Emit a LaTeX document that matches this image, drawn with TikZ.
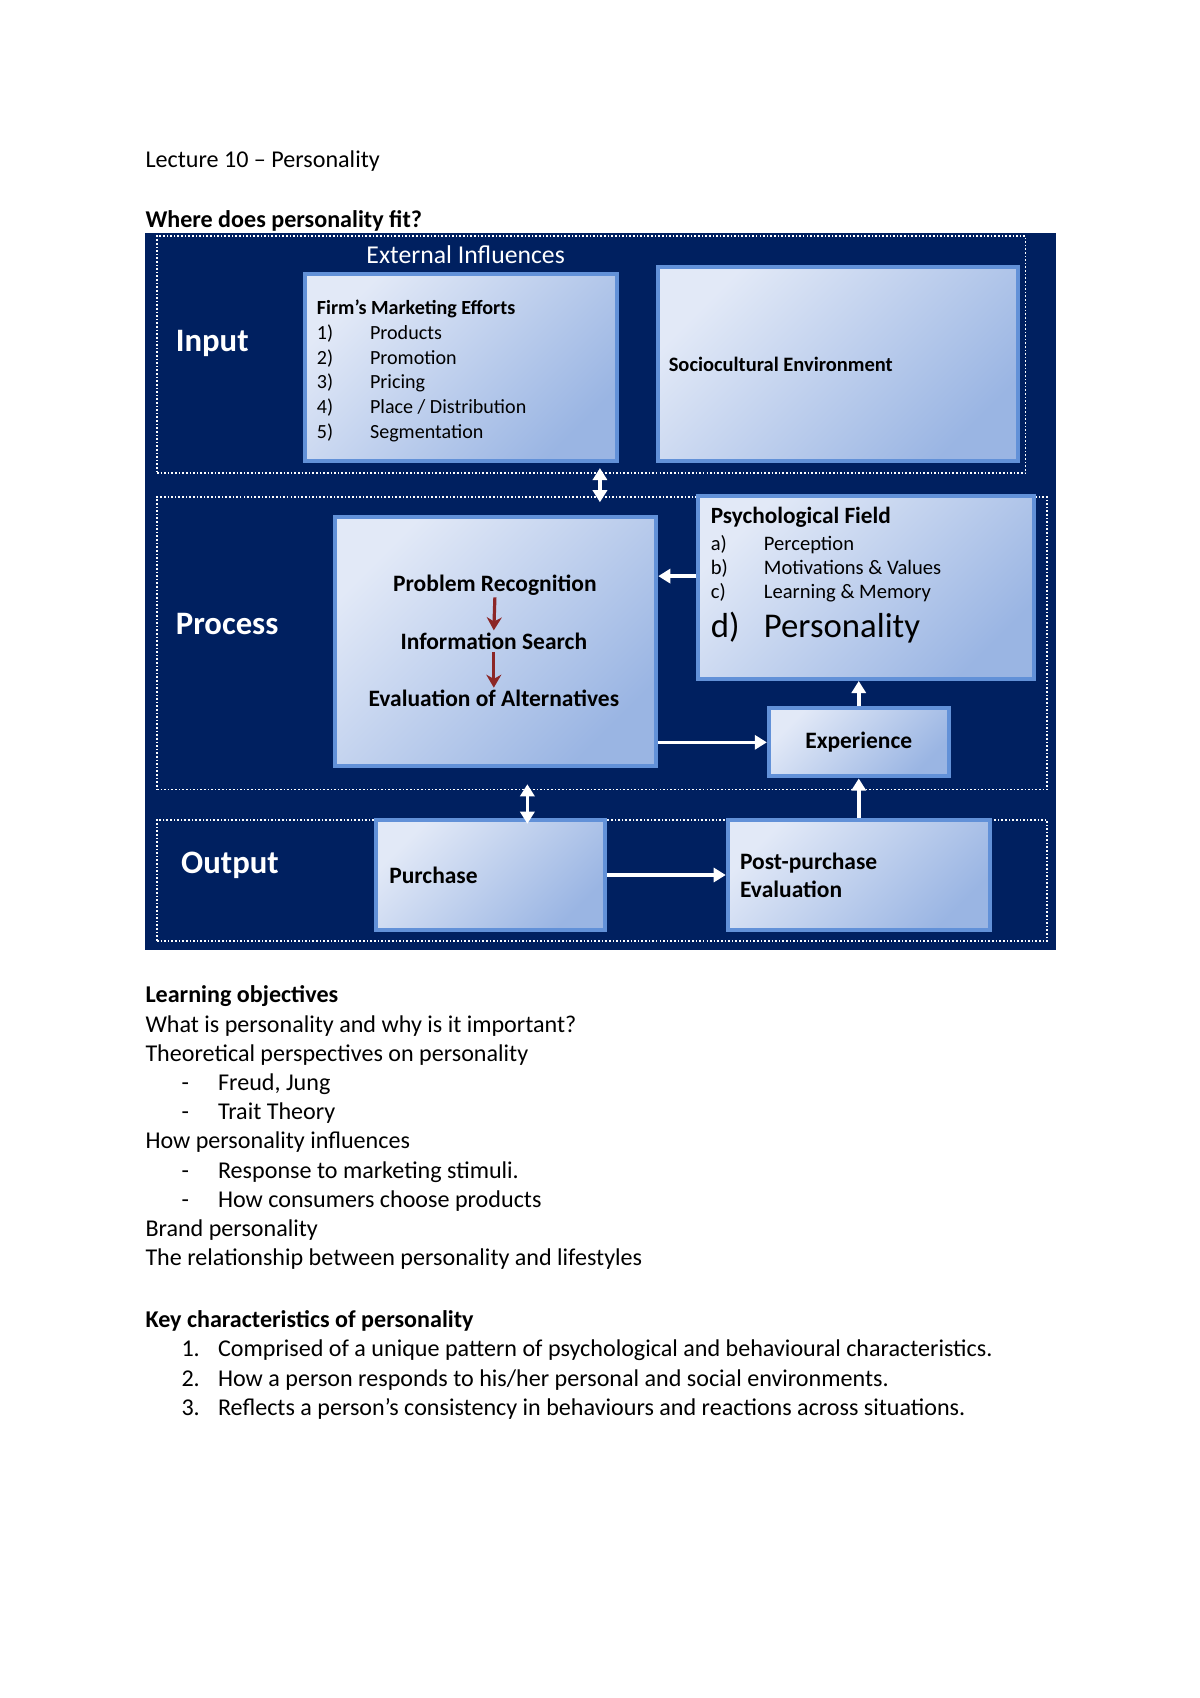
\documentclass[tikz,border=0pt]{standalone}
\usepackage{fontspec}
\setmainfont{Carlito}
\usetikzlibrary{arrows.meta,fit}

\definecolor{navy}{RGB}{0,32,96}
\definecolor{boxtop}{RGB}{226,233,247}
\definecolor{boxbot}{RGB}{154,181,227}
\definecolor{boxedge}{RGB}{98,145,216}
\definecolor{arrowred}{RGB}{140,38,38}

\newcommand\dashline[1]{\hspace*{0.63cm}\makebox[0.64cm][l]{-}#1}
\newcommand\numline[2]{\hspace*{0.63cm}\makebox[0.64cm][l]{#1}#2}
\newcommand\boxitem[2]{\makebox[0.93cm][l]{#1}#2}

\tikzset{
  pagetext/.style={anchor=base west, inner sep=0pt, font=\fontsize{12}{14.56}\selectfont},
  panel/.style={draw=white, densely dotted, line width=0.8pt, inner sep=0pt},
  panellabel/.style={anchor=west, inner sep=0pt, text=white, font=\fontsize{16.3}{18}\selectfont\bfseries},
  box/.style={draw=boxedge, line width=2pt, inner sep=0pt,
    top color=boxtop, bottom color=boxbot, shading angle=45},
  boxtext/.style={inner sep=1pt, font=\fontsize{11.7}{14}\selectfont\bfseries},
  arr/.style={draw=white, line width=1.8pt, -{Triangle[length=6pt,width=7pt]}},
  dblarr/.style={arr, {Triangle[length=6pt,width=7pt]}-{Triangle[length=6pt,width=7pt]},
    shorten <=-3pt, shorten >=-3pt},
  stepdown/.style={draw=arrowred, line width=1.6pt, -{Stealth[length=6.5pt,width=7.5pt]}}
}

\begin{document}
\begin{tikzpicture}[x=0.018951cm, y=-0.018951cm]
  \useasboundingbox (0,0) rectangle (1108,1568);
  \fill[white] (0,0) rectangle (1108,1568);

  % heading
  \node[pagetext] (title) at (134,155) {Lecture 10 – Personality};
  \node[pagetext] (fitq) at (134,210) {\textbf{Where does personality fit?}};

  % diagram background and panels
  \fill[navy] (134,215) rectangle (975,877);
  \node[panel, fit={(145,218) (947,437)}] (inputpanel) {};
  \node[panel, fit={(145,459) (967,729)}] (processpanel) {};
  \node[panel, fit={(145,757) (967,869)}] (outputpanel) {};
  \node[text=white, font=\fontsize{12.8}{14}\selectfont] (extinf) at (430,235) {External Influences};
  \node[panellabel] (input) at (162,317) {Input};
  \node[panellabel] (process) at (162,576) {Process};
  \node[panellabel] (output) at (167,799) {Output};

  % input
  \node[box, fit={(282,253) (570,426)}] (firm) {};
  \node[anchor=west, inner sep=0pt, align=left, font=\fontsize{10}{12.4}\selectfont]
    (firmtxt) at ([xshift=0.23cm, yshift=-0.057cm]firm.west) {\textbf{Firm’s Marketing Efforts}\\
    \boxitem{1)}{Products}\\
    \boxitem{2)}{Promotion}\\
    \boxitem{3)}{Pricing}\\
    \boxitem{4)}{Place / Distribution}\\
    \boxitem{5)}{Segmentation}};
  \node[box, fit={(608,247) (940,426)}] (socio) {};
  \node[anchor=west, inner sep=0pt, font=\fontsize{10.2}{12}\selectfont\bfseries]
    (sociotxt) at ([xshift=0.21cm]socio.west) {Sociocultural Environment};

  % process
  \node[box, fit={(309,477) (606,707)}] (prob) {};
  \node[boxtext] (recog) at (457,540) {Problem Recognition};
  \node[boxtext] (search) at (456,592) {Information Search};
  \node[boxtext] (evalalt) at (456,645) {Evaluation of Alternatives};
  \draw[stepdown] (recog.south) -- (search.north);
  \draw[stepdown] (search.south) -- (evalalt.north);

  \node[box, fit={(645,458) (955,627)}] (psych) {};
  \node[anchor=north west, inner sep=0pt, align=left,
    font=\fontsize{10.25}{11.9}\selectfont] (psychtxt) at (656,468)
    {{\fontsize{11.6}{11.9}\selectfont\bfseries Psychological Field}\\[1.5pt]
    \boxitem{a)}{Perception}\\
    \boxitem{b)}{Motivations \& Values}\\
    \boxitem{c)}{Learning \& Memory}};
  \node[anchor=base west, inner sep=0pt, font=\fontsize{17.3}{19}\selectfont] (pers) at (656,589)
    {\boxitem{d)}{Personality}};

  \node[box, fit={(710,654) (876,717)}] (exp) {};
  \node[boxtext] (exptxt) at (exp.center) {Experience};

  % output
  \node[box, fit={(347,757) (559,859)}] (purchase) {};
  \node[boxtext, anchor=west, inner sep=0pt] (purchtxt) at ([xshift=0.265cm]purchase.west) {Purchase};
  \node[box, fit={(672,757) (914,859)}] (post) {};
  \node[boxtext, anchor=west, inner sep=0pt, align=left] (posttxt) at ([xshift=0.245cm]post.west)
    {Post-purchase\\Evaluation};

  % connectors
  \coordinate (x554) at (554,0);
  \coordinate (x487) at (487,0);
  \coordinate (y532) at (0,532);
  \draw[dblarr] (inputpanel.south -| x554) -- (processpanel.north -| x554);
  \draw[dblarr] (processpanel.south -| x487) -- (purchase.north -| x487);
  \draw[arr] (psych.west |- y532) -- (prob.east |- y532);
  \draw[arr] (prob.east |- exp.west) -- (exp.west);
  \draw[arr] (exp.north) -- (exp.north |- psych.south);
  \draw[arr] (exp.south |- post.north) -- (exp.south);
  \draw[arr] (purchase.east) -- (post.west);

  % text below the diagram
  \node[pagetext] (objectives) at (134,926) {\begin{tabular}[t]{@{}l@{}}
    \textbf{Learning objectives}\\
    What is personality and why is it important?\\
    Theoretical perspectives on personality\\
    \dashline{Freud, Jung}\\
    \dashline{Trait Theory}\\
    How personality influences\\
    \dashline{Response to marketing stimuli.}\\
    \dashline{How consumers choose products}\\
    Brand personality\\
    The relationship between personality and lifestyles
  \end{tabular}};
  \node[pagetext] (keychar) at (134,1226) {\begin{tabular}[t]{@{}l@{}}
    \textbf{Key characteristics of personality}\\
    \numline{1.}{Comprised of a unique pattern of psychological and behavioural characteristics.}\\
    \numline{2.}{How a person responds to his/her personal and social environments.}\\
    \numline{3.}{Reflects a person’s consistency in behaviours and reactions across situations.}
  \end{tabular}};
\end{tikzpicture}
\end{document}
